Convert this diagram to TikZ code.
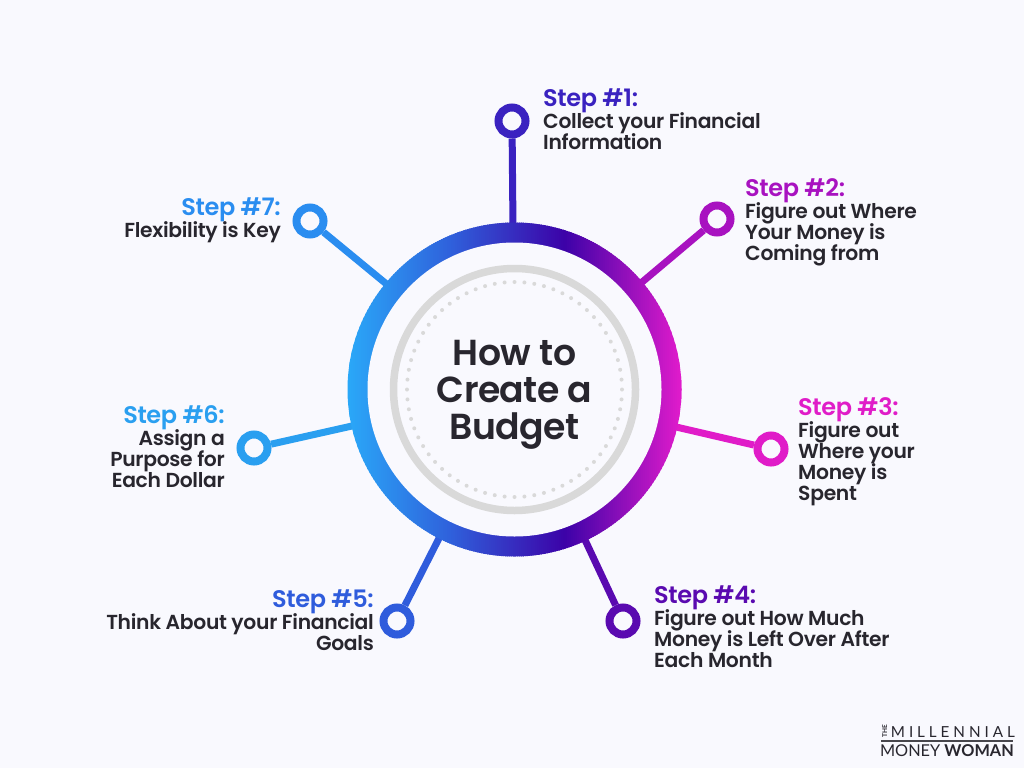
\documentclass[tikz,border=0pt]{standalone}
\usepackage{fontspec}
\setmainfont{Poppins}[BoldFont={Poppins SemiBold},LetterSpace=-1.5]
\newfontfamily\logofont{Lato}
\newfontfamily\logospaced{Lato}[LetterSpace=26]
\usetikzlibrary{positioning}
\lineskiplimit=-20pt
\normallineskiplimit=-20pt

\definecolor{paper}{HTML}{F9F9FE}
\definecolor{ink}{HTML}{28262E}
\definecolor{ringgray}{HTML}{D9D9D9}
\definecolor{stepone}{HTML}{3A22C0}
\definecolor{steptwo}{HTML}{A812C0}
\definecolor{stepthree}{HTML}{E01CC8}
\definecolor{stepfour}{HTML}{5A0AB0}
\definecolor{stepfive}{HTML}{2F5CDC}
\definecolor{stepsix}{HTML}{2A9FF0}
\definecolor{stepseven}{HTML}{2A8DF0}
\definecolor{fadea}{HTML}{2AA8F8}
\definecolor{fadeb}{HTML}{2F62DC}
\definecolor{fadec}{HTML}{3C02A8}
\definecolor{faded}{HTML}{E41CCC}

\tikzset{
  stepdot/.style={circle,draw=#1,fill=paper,line width=8pt,minimum size=27pt,inner sep=0pt},
  stepline/.style={draw=#1,line width=7pt,shorten >=-3pt},
  steptext/.style={inner sep=0pt,text=ink,font=\fontsize{20.3}{21}\selectfont\bfseries}
}
\newcommand{\headsize}{\fontsize{24}{24}\selectfont}

\begin{document}
\begin{tikzpicture}[x=1pt,y=-1pt]
\useasboundingbox (0,0) rectangle (1024,768);
\fill[paper] (0,0) rectangle (1024,768);

% Centre and ring
\coordinate (centre) at (514.5,389.5);
\node[circle,minimum size=334pt,inner sep=0pt] (ring) at (centre) {};

% Step circles
\node[stepdot=stepone] (dot1) at (512,121) {};
\node[stepdot=steptwo] (dot2) at (717,219) {};
\node[stepdot=stepthree] (dot3) at (771,449) {};
\node[stepdot=stepfour] (dot4) at (623,621) {};
\node[stepdot=stepfive] (dot5) at (397,621) {};
\node[stepdot=stepsix] (dot6) at (254,448) {};
\node[stepdot=stepseven] (dot7) at (310,221) {};

% Lines to the ring
\draw[stepline=stepone] (dot1) -- (ring);
\draw[stepline=steptwo] (dot2) -- (ring);
\draw[stepline=stepthree] (dot3) -- (ring);
\draw[stepline=stepfour] (dot4) -- (ring);
\draw[stepline=stepfive] (dot5) -- (ring);
\draw[stepline=stepsix] (dot6) -- (ring);
\draw[stepline=stepseven] (dot7) -- (ring);

% Colour ring, painted in upright strips
\begin{scope}
\clip (centre) circle (167);
\foreach \i in {0,...,168} {
  \pgfmathsetmacro{\t}{\i/168}
  \ifdim\t pt<0.3pt
    \pgfmathsetmacro{\p}{100*\t/0.3}
    \colorlet{stripcol}{fadeb!\p!fadea}
  \else\ifdim\t pt<0.645pt
    \pgfmathsetmacro{\p}{100*(\t-0.3)/0.345}
    \colorlet{stripcol}{fadec!\p!fadeb}
  \else
    \pgfmathsetmacro{\p}{100*(\t-0.645)/0.355}
    \colorlet{stripcol}{faded!\p!fadec}
  \fi\fi
  \fill[stripcol] (347+2*\i,220) rectangle ++(3,340);
}
\end{scope}
\fill[paper] (centre) circle (147);

% Grey ring and dots
\draw[ringgray,line width=7.5pt] (centre) circle (121);
\foreach \i in {0,...,67}
  \fill[ringgray] (centre) ++(\i*5.2941:107.5) circle (2);

% Title
\node[inner sep=0pt,align=center,text=ink,font=\fontsize{36.2}{37}\selectfont\bfseries] (title) at (514.5,394.5)
  {How to\\Create a\\Budget};

% Step labels
\node[steptext,anchor=north west,align=left] (step1) at (543,89)
  {{\color{stepone}\headsize Step \#1:}\\[1pt]Collect your Financial\\Information};
\node[steptext,anchor=north west,align=left] (step2) at (745,178)
  {{\color{steptwo}\headsize Step \#2:}\\[1pt]Figure out Where\\Your Money is\\Coming from};
\node[steptext,anchor=north west,align=left] (step3) at (798,397)
  {{\color{stepthree}\headsize Step \#3:}\\[1pt]Figure out\\Where your\\Money is\\Spent};
\node[steptext,anchor=north west,align=left] (step4) at (654,586)
  {{\color{stepfour}\headsize Step \#4:}\\[1pt]Figure out How Much\\Money is Left Over After\\Each Month};
\node[steptext,anchor=north east,align=right] (step5) at (374,590)
  {{\color{stepfive}\headsize Step \#5:}\\[1pt]Think About your Financial\\Goals};
\node[steptext,anchor=north east,align=right] (step6) at (225,405)
  {{\color{stepsix}\headsize Step \#6:}\\[1pt]Assign a\\Purpose for\\Each Dollar};
\node[steptext,anchor=north east,align=right] (step7) at (281,198)
  {{\color{stepseven}\headsize Step \#7:}\\[1pt]Flexibility is Key};

% Logo
\node[inner sep=0pt,anchor=base east,text=ink,font=\logospaced\fontsize{15.2}{15}\selectfont] (logotop) at (1015,737) {MILLENNIAL};
\node[inner sep=0pt,anchor=base,rotate=90,text=ink,font=\logofont\fontsize{6.5}{6.5}\selectfont\bfseries] (logothe) at (887,731.5) {THE};
\draw[ink!85,line width=1.3pt] (881,741) -- (1013,741);
\node[inner sep=0pt,anchor=base east,text=ink,font=\logofont\fontsize{16.3}{16}\selectfont] (logobottom) at (1014,756) {MONEY \textbf{WOMAN}};
\end{tikzpicture}
\end{document}
